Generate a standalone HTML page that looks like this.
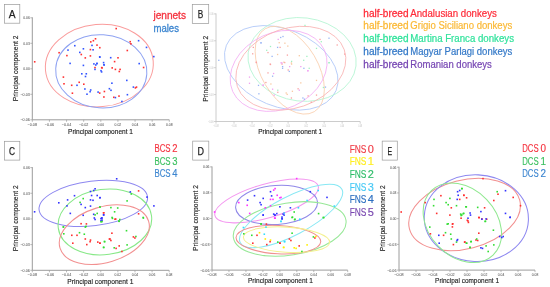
<!DOCTYPE html>
<html><head><meta charset="utf-8"><style>
html,body{margin:0;padding:0;background:#fff;width:550px;height:287px;overflow:hidden}
svg{display:block;will-change:transform}
text{font-family:"Liberation Sans", sans-serif}
</style></head><body>
<svg width="550" height="287" viewBox="0 0 550 287">
<rect width="550" height="287" fill="#fff"/>
<path d="M32.3 17.3V119.8H169.3" fill="none" stroke="#9c9c9c" stroke-width="1"/>
<path d="M30.30 17.80H32.3" stroke="#9c9c9c" stroke-width="0.7"/>
<text x="29.80" y="19.25" text-anchor="end" font-size="4" fill="#3a3a3a" textLength="6.60" lengthAdjust="spacingAndGlyphs">0.06</text>
<path d="M30.30 43.30H32.3" stroke="#9c9c9c" stroke-width="0.7"/>
<text x="29.80" y="44.75" text-anchor="end" font-size="4" fill="#3a3a3a" textLength="6.60" lengthAdjust="spacingAndGlyphs">0.03</text>
<path d="M30.30 68.80H32.3" stroke="#9c9c9c" stroke-width="0.7"/>
<text x="29.80" y="70.25" text-anchor="end" font-size="4" fill="#3a3a3a" textLength="6.60" lengthAdjust="spacingAndGlyphs">0.00</text>
<path d="M30.30 94.30H32.3" stroke="#9c9c9c" stroke-width="0.7"/>
<text x="29.80" y="95.75" text-anchor="end" font-size="4" fill="#3a3a3a" textLength="9.37" lengthAdjust="spacingAndGlyphs">−0.03</text>
<path d="M30.30 119.80H32.3" stroke="#9c9c9c" stroke-width="0.7"/>
<text x="29.80" y="121.25" text-anchor="end" font-size="4" fill="#3a3a3a" textLength="9.37" lengthAdjust="spacingAndGlyphs">−0.06</text>
<path d="M32.30 119.8V121.8" stroke="#9c9c9c" stroke-width="0.7"/>
<text x="32.30" y="125.70" text-anchor="middle" font-size="4" fill="#3a3a3a" textLength="9.37" lengthAdjust="spacingAndGlyphs">−0.08</text>
<path d="M49.42 119.8V121.8" stroke="#9c9c9c" stroke-width="0.7"/>
<text x="49.42" y="125.70" text-anchor="middle" font-size="4" fill="#3a3a3a" textLength="9.37" lengthAdjust="spacingAndGlyphs">−0.06</text>
<path d="M66.55 119.8V121.8" stroke="#9c9c9c" stroke-width="0.7"/>
<text x="66.55" y="125.70" text-anchor="middle" font-size="4" fill="#3a3a3a" textLength="9.37" lengthAdjust="spacingAndGlyphs">−0.04</text>
<path d="M83.67 119.8V121.8" stroke="#9c9c9c" stroke-width="0.7"/>
<text x="83.67" y="125.70" text-anchor="middle" font-size="4" fill="#3a3a3a" textLength="9.37" lengthAdjust="spacingAndGlyphs">−0.02</text>
<path d="M100.80 119.8V121.8" stroke="#9c9c9c" stroke-width="0.7"/>
<text x="100.80" y="125.70" text-anchor="middle" font-size="4" fill="#3a3a3a" textLength="6.60" lengthAdjust="spacingAndGlyphs">0.00</text>
<path d="M117.92 119.8V121.8" stroke="#9c9c9c" stroke-width="0.7"/>
<text x="117.92" y="125.70" text-anchor="middle" font-size="4" fill="#3a3a3a" textLength="6.60" lengthAdjust="spacingAndGlyphs">0.02</text>
<path d="M135.05 119.8V121.8" stroke="#9c9c9c" stroke-width="0.7"/>
<text x="135.05" y="125.70" text-anchor="middle" font-size="4" fill="#3a3a3a" textLength="6.60" lengthAdjust="spacingAndGlyphs">0.04</text>
<path d="M152.18 119.8V121.8" stroke="#9c9c9c" stroke-width="0.7"/>
<text x="152.18" y="125.70" text-anchor="middle" font-size="4" fill="#3a3a3a" textLength="6.60" lengthAdjust="spacingAndGlyphs">0.06</text>
<path d="M169.30 119.8V121.8" stroke="#9c9c9c" stroke-width="0.7"/>
<text x="169.30" y="125.70" text-anchor="middle" font-size="4" fill="#3a3a3a" textLength="6.60" lengthAdjust="spacingAndGlyphs">0.08</text>
<text x="68" y="133.80" font-size="7.9" fill="#222" stroke="#222" stroke-width="0.14" textLength="65.00" lengthAdjust="spacingAndGlyphs">Principal component 1</text>
<text transform="translate(18.20 101.30) rotate(-90)" x="0" y="0" font-size="7.9" fill="#222" stroke="#222" stroke-width="0.14" textLength="65.80" lengthAdjust="spacingAndGlyphs">Principal component 2</text>
<rect x="4.4" y="4.4" width="15.4" height="18.8" fill="#fff" stroke="#9a9a9a" stroke-width="0.7"/>
<text x="8.70" y="17.70" font-size="10.8" fill="#222" stroke="#222" stroke-width="0.25" textLength="6.8" lengthAdjust="spacingAndGlyphs">A</text>
<ellipse cx="99.33" cy="65.57" rx="54.06" ry="41.19" transform="rotate(-5.00 99.33 65.57)" fill="none" stroke="#fa9c9c" stroke-width="1.0"/>
<ellipse cx="101.27" cy="71.30" rx="45.63" ry="36.59" transform="rotate(3.50 101.27 71.30)" fill="none" stroke="#8ea2f2" stroke-width="1.0"/>
<rect x="33.90" y="61.00" width="1.6" height="1.6" fill="#ff3030"/>
<rect x="115.40" y="27.80" width="1.6" height="1.6" fill="#ff3030"/>
<rect x="58.30" y="51.90" width="1.6" height="1.6" fill="#ff3030"/>
<rect x="66.10" y="54.80" width="1.6" height="1.6" fill="#ff3030"/>
<rect x="90.00" y="41.10" width="1.6" height="1.6" fill="#ff3030"/>
<rect x="92.60" y="39.90" width="1.6" height="1.6" fill="#ff3030"/>
<rect x="94.70" y="38.00" width="1.6" height="1.6" fill="#ff3030"/>
<rect x="96.20" y="44.30" width="1.6" height="1.6" fill="#ff3030"/>
<rect x="99.00" y="46.90" width="1.6" height="1.6" fill="#ff3030"/>
<rect x="89.60" y="48.80" width="1.6" height="1.6" fill="#ff3030"/>
<rect x="80.50" y="53.70" width="1.6" height="1.6" fill="#ff3030"/>
<rect x="84.50" y="57.10" width="1.6" height="1.6" fill="#ff3030"/>
<rect x="89.60" y="55.10" width="1.6" height="1.6" fill="#ff3030"/>
<rect x="94.20" y="66.80" width="1.6" height="1.6" fill="#ff3030"/>
<rect x="100.90" y="66.80" width="1.6" height="1.6" fill="#ff3030"/>
<rect x="129.40" y="40.90" width="1.6" height="1.6" fill="#ff3030"/>
<rect x="130.10" y="43.00" width="1.6" height="1.6" fill="#ff3030"/>
<rect x="126.50" y="49.70" width="1.6" height="1.6" fill="#ff3030"/>
<rect x="117.20" y="57.00" width="1.6" height="1.6" fill="#ff3030"/>
<rect x="113.80" y="60.80" width="1.6" height="1.6" fill="#ff3030"/>
<rect x="101.30" y="67.10" width="1.6" height="1.6" fill="#ff3030"/>
<rect x="111.40" y="67.10" width="1.6" height="1.6" fill="#ff3030"/>
<rect x="114.60" y="68.60" width="1.6" height="1.6" fill="#ff3030"/>
<rect x="119.30" y="68.60" width="1.6" height="1.6" fill="#ff3030"/>
<rect x="118.50" y="70.70" width="1.6" height="1.6" fill="#ff3030"/>
<rect x="142.80" y="66.70" width="1.6" height="1.6" fill="#ff3030"/>
<rect x="134.60" y="87.10" width="1.6" height="1.6" fill="#ff3030"/>
<rect x="135.70" y="86.30" width="1.6" height="1.6" fill="#ff3030"/>
<rect x="98.90" y="92.30" width="1.6" height="1.6" fill="#ff3030"/>
<rect x="103.60" y="90.70" width="1.6" height="1.6" fill="#ff3030"/>
<rect x="103.10" y="96.20" width="1.6" height="1.6" fill="#ff3030"/>
<rect x="113.00" y="96.50" width="1.6" height="1.6" fill="#ff3030"/>
<rect x="118.20" y="95.30" width="1.6" height="1.6" fill="#ff3030"/>
<rect x="62.60" y="76.30" width="1.6" height="1.6" fill="#ff3030"/>
<rect x="63.20" y="83.00" width="1.6" height="1.6" fill="#ff3030"/>
<rect x="70.90" y="84.50" width="1.6" height="1.6" fill="#ff3030"/>
<rect x="78.40" y="81.50" width="1.6" height="1.6" fill="#ff3030"/>
<rect x="83.00" y="83.40" width="1.6" height="1.6" fill="#ff3030"/>
<rect x="71.60" y="92.40" width="1.6" height="1.6" fill="#ff3030"/>
<rect x="74.00" y="44.90" width="1.6" height="1.6" fill="#3355ff"/>
<rect x="67.20" y="49.30" width="1.6" height="1.6" fill="#3355ff"/>
<rect x="82.60" y="48.00" width="1.6" height="1.6" fill="#3355ff"/>
<rect x="91.20" y="44.60" width="1.6" height="1.6" fill="#3355ff"/>
<rect x="92.30" y="49.00" width="1.6" height="1.6" fill="#3355ff"/>
<rect x="79.00" y="51.60" width="1.6" height="1.6" fill="#3355ff"/>
<rect x="69.30" y="62.60" width="1.6" height="1.6" fill="#3355ff"/>
<rect x="82.60" y="64.60" width="1.6" height="1.6" fill="#3355ff"/>
<rect x="93.10" y="63.10" width="1.6" height="1.6" fill="#3355ff"/>
<rect x="95.00" y="64.20" width="1.6" height="1.6" fill="#3355ff"/>
<rect x="96.20" y="62.60" width="1.6" height="1.6" fill="#3355ff"/>
<rect x="99.00" y="56.30" width="1.6" height="1.6" fill="#3355ff"/>
<rect x="102.80" y="61.80" width="1.6" height="1.6" fill="#3355ff"/>
<rect x="103.30" y="64.20" width="1.6" height="1.6" fill="#3355ff"/>
<rect x="98.90" y="56.10" width="1.6" height="1.6" fill="#3355ff"/>
<rect x="109.90" y="56.90" width="1.6" height="1.6" fill="#3355ff"/>
<rect x="96.10" y="62.80" width="1.6" height="1.6" fill="#3355ff"/>
<rect x="103.10" y="63.90" width="1.6" height="1.6" fill="#3355ff"/>
<rect x="94.20" y="68.60" width="1.6" height="1.6" fill="#3355ff"/>
<rect x="100.20" y="69.90" width="1.6" height="1.6" fill="#3355ff"/>
<rect x="100.80" y="71.10" width="1.6" height="1.6" fill="#3355ff"/>
<rect x="138.40" y="62.80" width="1.6" height="1.6" fill="#3355ff"/>
<rect x="126.00" y="79.60" width="1.6" height="1.6" fill="#3355ff"/>
<rect x="111.10" y="82.40" width="1.6" height="1.6" fill="#3355ff"/>
<rect x="108.60" y="87.90" width="1.6" height="1.6" fill="#3355ff"/>
<rect x="110.20" y="89.50" width="1.6" height="1.6" fill="#3355ff"/>
<rect x="97.30" y="91.30" width="1.6" height="1.6" fill="#3355ff"/>
<rect x="132.60" y="86.30" width="1.6" height="1.6" fill="#3355ff"/>
<rect x="126.60" y="93.90" width="1.6" height="1.6" fill="#3355ff"/>
<rect x="114.60" y="96.80" width="1.6" height="1.6" fill="#3355ff"/>
<rect x="153.00" y="55.80" width="1.6" height="1.6" fill="#3355ff"/>
<rect x="137.80" y="39.90" width="1.6" height="1.6" fill="#3355ff"/>
<rect x="145.70" y="46.60" width="1.6" height="1.6" fill="#3355ff"/>
<rect x="76.20" y="84.50" width="1.6" height="1.6" fill="#3355ff"/>
<rect x="81.00" y="73.00" width="1.6" height="1.6" fill="#3355ff"/>
<rect x="85.50" y="73.00" width="1.6" height="1.6" fill="#3355ff"/>
<rect x="84.70" y="75.70" width="1.6" height="1.6" fill="#3355ff"/>
<rect x="84.10" y="88.20" width="1.6" height="1.6" fill="#3355ff"/>
<rect x="86.20" y="93.40" width="1.6" height="1.6" fill="#3355ff"/>
<rect x="89.30" y="90.90" width="1.6" height="1.6" fill="#3355ff"/>
<rect x="89.90" y="89.20" width="1.6" height="1.6" fill="#3355ff"/>
<rect x="121.10" y="100.70" width="1.6" height="1.6" fill="#3355ff"/>
<text x="153.4" y="18.70" font-size="10.2" fill="#f5333f" stroke="#f5333f" stroke-width="0.3" textLength="32.6" lengthAdjust="spacingAndGlyphs">jennets</text>
<text x="153.4" y="31.60" font-size="10.2" fill="#3d86d0" stroke="#3d86d0" stroke-width="0.3" textLength="25.6" lengthAdjust="spacingAndGlyphs">males</text>
<rect x="192.3" y="4.6" width="16.4" height="18.8" fill="#fff" stroke="#9a9a9a" stroke-width="0.7"/>
<text x="197.75" y="17.90" font-size="10.8" fill="#222" stroke="#222" stroke-width="0.25" textLength="5.5" lengthAdjust="spacingAndGlyphs">B</text>
<path d="M216 13.4V121.5H360.2" fill="none" stroke="#cccccc" stroke-width="1"/>
<path d="M213.80 13.90H216" stroke="#c0c0c0" stroke-width="0.7"/>
<text x="213.50" y="15.35" text-anchor="end" font-size="3.2" fill="#c4c4c4" textLength="3.90" lengthAdjust="spacingAndGlyphs">0.06</text>
<path d="M213.80 40.80H216" stroke="#c0c0c0" stroke-width="0.7"/>
<text x="213.50" y="42.25" text-anchor="end" font-size="3.2" fill="#c4c4c4" textLength="3.90" lengthAdjust="spacingAndGlyphs">0.03</text>
<path d="M213.80 67.70H216" stroke="#c0c0c0" stroke-width="0.7"/>
<text x="213.50" y="69.15" text-anchor="end" font-size="3.2" fill="#c4c4c4" textLength="3.90" lengthAdjust="spacingAndGlyphs">0.00</text>
<path d="M213.80 94.60H216" stroke="#c0c0c0" stroke-width="0.7"/>
<text x="213.50" y="96.05" text-anchor="end" font-size="3.2" fill="#c4c4c4" textLength="5.54" lengthAdjust="spacingAndGlyphs">−0.03</text>
<path d="M213.80 121.50H216" stroke="#c0c0c0" stroke-width="0.7"/>
<text x="213.50" y="122.95" text-anchor="end" font-size="3.2" fill="#c4c4c4" textLength="5.54" lengthAdjust="spacingAndGlyphs">−0.06</text>
<path d="M216.00 121.5V123.7" stroke="#c0c0c0" stroke-width="0.7"/>
<text x="216.00" y="127.40" text-anchor="middle" font-size="3.2" fill="#c4c4c4" textLength="5.54" lengthAdjust="spacingAndGlyphs">−0.08</text>
<path d="M234.03 121.5V123.7" stroke="#c0c0c0" stroke-width="0.7"/>
<text x="234.03" y="127.40" text-anchor="middle" font-size="3.2" fill="#c4c4c4" textLength="5.54" lengthAdjust="spacingAndGlyphs">−0.06</text>
<path d="M252.05 121.5V123.7" stroke="#c0c0c0" stroke-width="0.7"/>
<text x="252.05" y="127.40" text-anchor="middle" font-size="3.2" fill="#c4c4c4" textLength="5.54" lengthAdjust="spacingAndGlyphs">−0.04</text>
<path d="M270.07 121.5V123.7" stroke="#c0c0c0" stroke-width="0.7"/>
<text x="270.07" y="127.40" text-anchor="middle" font-size="3.2" fill="#c4c4c4" textLength="5.54" lengthAdjust="spacingAndGlyphs">−0.02</text>
<path d="M288.10 121.5V123.7" stroke="#c0c0c0" stroke-width="0.7"/>
<text x="288.10" y="127.40" text-anchor="middle" font-size="3.2" fill="#c4c4c4" textLength="3.90" lengthAdjust="spacingAndGlyphs">0.00</text>
<path d="M306.12 121.5V123.7" stroke="#c0c0c0" stroke-width="0.7"/>
<text x="306.12" y="127.40" text-anchor="middle" font-size="3.2" fill="#c4c4c4" textLength="3.90" lengthAdjust="spacingAndGlyphs">0.02</text>
<path d="M324.15 121.5V123.7" stroke="#c0c0c0" stroke-width="0.7"/>
<text x="324.15" y="127.40" text-anchor="middle" font-size="3.2" fill="#c4c4c4" textLength="3.90" lengthAdjust="spacingAndGlyphs">0.04</text>
<path d="M342.17 121.5V123.7" stroke="#c0c0c0" stroke-width="0.7"/>
<text x="342.17" y="127.40" text-anchor="middle" font-size="3.2" fill="#c4c4c4" textLength="3.90" lengthAdjust="spacingAndGlyphs">0.06</text>
<path d="M360.20 121.5V123.7" stroke="#c0c0c0" stroke-width="0.7"/>
<text x="360.20" y="127.40" text-anchor="middle" font-size="3.2" fill="#c4c4c4" textLength="3.90" lengthAdjust="spacingAndGlyphs">0.08</text>
<text x="258.2" y="133.50" font-size="7.9" fill="#222" stroke="#222" stroke-width="0.14" textLength="64.00" lengthAdjust="spacingAndGlyphs">Principal component 1</text>
<text transform="translate(208.30 101.70) rotate(-90)" x="0" y="0" font-size="7.9" fill="#222" stroke="#222" stroke-width="0.14" textLength="65.90" lengthAdjust="spacingAndGlyphs">Principal component 2</text>
<ellipse cx="281.26" cy="67.87" rx="59.34" ry="38.63" transform="rotate(22.42 281.26 67.87)" fill="none" stroke="#b0c8f8" stroke-width="0.8"/>
<ellipse cx="302.07" cy="59.44" rx="54.32" ry="41.71" transform="rotate(6.96 302.07 59.44)" fill="none" stroke="#b0f4d0" stroke-width="0.8"/>
<ellipse cx="289.74" cy="70.20" rx="48.20" ry="28.40" transform="rotate(59.38 289.74 70.20)" fill="none" stroke="#f9d0b0" stroke-width="0.8"/>
<ellipse cx="278.60" cy="70.87" rx="50.31" ry="38.27" transform="rotate(-24.34 278.60 70.87)" fill="none" stroke="#f4b0f4" stroke-width="0.8"/>
<ellipse cx="290.84" cy="68.20" rx="56.54" ry="39.87" transform="rotate(-18.96 290.84 68.20)" fill="none" stroke="#f9b4b4" stroke-width="0.8"/>
<rect x="218.15" y="59.65" width="1.3" height="1.3" fill="#98b4f4"/>
<rect x="260.35" y="42.05" width="1.3" height="1.3" fill="#98b4f4"/>
<rect x="282.35" y="35.85" width="1.3" height="1.3" fill="#98b4f4"/>
<rect x="280.05" y="36.85" width="1.3" height="1.3" fill="#98b4f4"/>
<rect x="276.95" y="46.75" width="1.3" height="1.3" fill="#98b4f4"/>
<rect x="260.35" y="42.35" width="1.3" height="1.3" fill="#98b4f4"/>
<rect x="271.45" y="55.75" width="1.3" height="1.3" fill="#98b4f4"/>
<rect x="328.35" y="37.55" width="1.3" height="1.3" fill="#98b4f4"/>
<rect x="257.85" y="84.75" width="1.3" height="1.3" fill="#98b4f4"/>
<rect x="258.25" y="93.15" width="1.3" height="1.3" fill="#98b4f4"/>
<rect x="281.95" y="65.95" width="1.3" height="1.3" fill="#98b4f4"/>
<rect x="281.95" y="67.65" width="1.3" height="1.3" fill="#98b4f4"/>
<rect x="288.65" y="70.75" width="1.3" height="1.3" fill="#98b4f4"/>
<rect x="303.25" y="67.65" width="1.3" height="1.3" fill="#98b4f4"/>
<rect x="271.95" y="75.55" width="1.3" height="1.3" fill="#98b4f4"/>
<rect x="302.25" y="97.35" width="1.3" height="1.3" fill="#98b4f4"/>
<rect x="303.75" y="98.55" width="1.3" height="1.3" fill="#98b4f4"/>
<rect x="324.85" y="86.45" width="1.3" height="1.3" fill="#98b4f4"/>
<rect x="252.65" y="46.75" width="1.3" height="1.3" fill="#f9a0a0"/>
<rect x="252.05" y="53.15" width="1.3" height="1.3" fill="#f9a0a0"/>
<rect x="255.55" y="61.55" width="1.3" height="1.3" fill="#f9a0a0"/>
<rect x="279.45" y="46.75" width="1.3" height="1.3" fill="#f9a0a0"/>
<rect x="267.35" y="51.95" width="1.3" height="1.3" fill="#f9a0a0"/>
<rect x="286.75" y="54.45" width="1.3" height="1.3" fill="#f9a0a0"/>
<rect x="281.35" y="63.45" width="1.3" height="1.3" fill="#f9a0a0"/>
<rect x="269.55" y="63.45" width="1.3" height="1.3" fill="#f9a0a0"/>
<rect x="319.35" y="38.75" width="1.3" height="1.3" fill="#f9a0a0"/>
<rect x="336.55" y="44.35" width="1.3" height="1.3" fill="#f9a0a0"/>
<rect x="344.05" y="53.45" width="1.3" height="1.3" fill="#f9a0a0"/>
<rect x="255.75" y="61.95" width="1.3" height="1.3" fill="#f9a0a0"/>
<rect x="269.85" y="63.85" width="1.3" height="1.3" fill="#f9a0a0"/>
<rect x="284.05" y="61.95" width="1.3" height="1.3" fill="#f9a0a0"/>
<rect x="287.55" y="69.35" width="1.3" height="1.3" fill="#f9a0a0"/>
<rect x="267.35" y="72.25" width="1.3" height="1.3" fill="#f9a0a0"/>
<rect x="265.25" y="81.85" width="1.3" height="1.3" fill="#f9a0a0"/>
<rect x="277.15" y="91.65" width="1.3" height="1.3" fill="#f9a0a0"/>
<rect x="290.75" y="97.35" width="1.3" height="1.3" fill="#f9a0a0"/>
<rect x="297.45" y="88.15" width="1.3" height="1.3" fill="#f9a0a0"/>
<rect x="315.85" y="94.45" width="1.3" height="1.3" fill="#f9a0a0"/>
<rect x="307.45" y="95.25" width="1.3" height="1.3" fill="#f9a0a0"/>
<rect x="310.65" y="101.55" width="1.3" height="1.3" fill="#f9a0a0"/>
<rect x="304.35" y="24.75" width="1.3" height="1.3" fill="#a0f0c0"/>
<rect x="269.85" y="45.85" width="1.3" height="1.3" fill="#a0f0c0"/>
<rect x="266.05" y="49.65" width="1.3" height="1.3" fill="#a0f0c0"/>
<rect x="306.25" y="55.75" width="1.3" height="1.3" fill="#a0f0c0"/>
<rect x="290.95" y="60.75" width="1.3" height="1.3" fill="#a0f0c0"/>
<rect x="303.05" y="59.65" width="1.3" height="1.3" fill="#a0f0c0"/>
<rect x="320.65" y="41.05" width="1.3" height="1.3" fill="#a0f0c0"/>
<rect x="315.85" y="47.75" width="1.3" height="1.3" fill="#a0f0c0"/>
<rect x="328.35" y="62.15" width="1.3" height="1.3" fill="#a0f0c0"/>
<rect x="277.15" y="89.55" width="1.3" height="1.3" fill="#a0f0c0"/>
<rect x="308.55" y="67.65" width="1.3" height="1.3" fill="#a0f0c0"/>
<rect x="322.75" y="86.85" width="1.3" height="1.3" fill="#a0f0c0"/>
<rect x="328.45" y="61.95" width="1.3" height="1.3" fill="#a0f0c0"/>
<rect x="278.55" y="42.05" width="1.3" height="1.3" fill="#f8c8a0"/>
<rect x="284.25" y="42.55" width="1.3" height="1.3" fill="#f8c8a0"/>
<rect x="287.15" y="45.45" width="1.3" height="1.3" fill="#f8c8a0"/>
<rect x="276.95" y="53.85" width="1.3" height="1.3" fill="#f8c8a0"/>
<rect x="298.65" y="55.05" width="1.3" height="1.3" fill="#f8c8a0"/>
<rect x="283.25" y="61.55" width="1.3" height="1.3" fill="#f8c8a0"/>
<rect x="290.95" y="63.45" width="1.3" height="1.3" fill="#f8c8a0"/>
<rect x="290.75" y="62.35" width="1.3" height="1.3" fill="#f8c8a0"/>
<rect x="270.25" y="83.35" width="1.3" height="1.3" fill="#f8c8a0"/>
<rect x="285.55" y="92.35" width="1.3" height="1.3" fill="#f8c8a0"/>
<rect x="286.55" y="93.75" width="1.3" height="1.3" fill="#f8c8a0"/>
<rect x="291.75" y="90.65" width="1.3" height="1.3" fill="#f8c8a0"/>
<rect x="300.15" y="82.25" width="1.3" height="1.3" fill="#f8c8a0"/>
<rect x="315.85" y="79.75" width="1.3" height="1.3" fill="#f8c8a0"/>
<rect x="277.55" y="38.75" width="1.3" height="1.3" fill="#f0a0f0"/>
<rect x="280.45" y="62.15" width="1.3" height="1.3" fill="#f0a0f0"/>
<rect x="289.05" y="65.95" width="1.3" height="1.3" fill="#f0a0f0"/>
<rect x="248.85" y="76.45" width="1.3" height="1.3" fill="#f0a0f0"/>
<rect x="248.85" y="82.65" width="1.3" height="1.3" fill="#f0a0f0"/>
<rect x="262.45" y="84.75" width="1.3" height="1.3" fill="#f0a0f0"/>
<rect x="281.35" y="62.35" width="1.3" height="1.3" fill="#f0a0f0"/>
<rect x="300.15" y="65.95" width="1.3" height="1.3" fill="#f0a0f0"/>
<rect x="307.05" y="70.15" width="1.3" height="1.3" fill="#f0a0f0"/>
<rect x="272.95" y="72.85" width="1.3" height="1.3" fill="#f0a0f0"/>
<rect x="262.45" y="84.35" width="1.3" height="1.3" fill="#f0a0f0"/>
<rect x="271.95" y="88.55" width="1.3" height="1.3" fill="#f0a0f0"/>
<rect x="273.55" y="94.45" width="1.3" height="1.3" fill="#f0a0f0"/>
<rect x="298.65" y="89.55" width="1.3" height="1.3" fill="#f0a0f0"/>
<rect x="307.45" y="70.15" width="1.3" height="1.3" fill="#f0a0f0"/>
<text x="363.3" y="16.70" font-size="10" fill="#ff2b38" stroke="#ff2b38" stroke-width="0.26" textLength="45.2" lengthAdjust="spacingAndGlyphs">half-breed</text>
<text x="410.3" y="16.70" font-size="10" fill="#ff2b38" stroke="#ff2b38" stroke-width="0.2" textLength="86.50" lengthAdjust="spacingAndGlyphs">Andalusian donkeys</text>
<text x="363.3" y="29.40" font-size="10" fill="#fbb936" stroke="#fbb936" stroke-width="0.26" textLength="45.2" lengthAdjust="spacingAndGlyphs">half-breed</text>
<text x="410.3" y="29.40" font-size="10" fill="#fbb936" stroke="#fbb936" stroke-width="0.2" textLength="101.90" lengthAdjust="spacingAndGlyphs">Grigio Siciliano donkeys</text>
<text x="363.3" y="42.10" font-size="10" fill="#30e39c" stroke="#30e39c" stroke-width="0.26" textLength="45.2" lengthAdjust="spacingAndGlyphs">half-breed</text>
<text x="410.3" y="42.10" font-size="10" fill="#30e39c" stroke="#30e39c" stroke-width="0.2" textLength="103.70" lengthAdjust="spacingAndGlyphs">Martina Franca donkeys</text>
<text x="363.3" y="54.80" font-size="10" fill="#3479c8" stroke="#3479c8" stroke-width="0.26" textLength="45.2" lengthAdjust="spacingAndGlyphs">half-breed</text>
<text x="410.3" y="54.80" font-size="10" fill="#3479c8" stroke="#3479c8" stroke-width="0.2" textLength="101.90" lengthAdjust="spacingAndGlyphs">Magyar Parlagi donkeys</text>
<text x="363.3" y="67.50" font-size="10" fill="#7646b3" stroke="#7646b3" stroke-width="0.26" textLength="45.2" lengthAdjust="spacingAndGlyphs">half-breed</text>
<text x="410.3" y="67.50" font-size="10" fill="#7646b3" stroke="#7646b3" stroke-width="0.2" textLength="81.50" lengthAdjust="spacingAndGlyphs">Romanian donkeys</text>
<rect x="4.4" y="141.3" width="15.4" height="18.8" fill="#fff" stroke="#9a9a9a" stroke-width="0.7"/>
<text x="9.10" y="154.60" font-size="10.8" fill="#222" stroke="#222" stroke-width="0.25" textLength="6.0" lengthAdjust="spacingAndGlyphs">C</text>
<path d="M32.3 167.1V270.3H169.2" fill="none" stroke="#9c9c9c" stroke-width="1"/>
<path d="M30.30 167.60H32.3" stroke="#9c9c9c" stroke-width="0.7"/>
<text x="29.80" y="169.05" text-anchor="end" font-size="4" fill="#3a3a3a" textLength="6.60" lengthAdjust="spacingAndGlyphs">0.06</text>
<path d="M30.30 193.28H32.3" stroke="#9c9c9c" stroke-width="0.7"/>
<text x="29.80" y="194.72" text-anchor="end" font-size="4" fill="#3a3a3a" textLength="6.60" lengthAdjust="spacingAndGlyphs">0.03</text>
<path d="M30.30 218.95H32.3" stroke="#9c9c9c" stroke-width="0.7"/>
<text x="29.80" y="220.40" text-anchor="end" font-size="4" fill="#3a3a3a" textLength="6.60" lengthAdjust="spacingAndGlyphs">0.00</text>
<path d="M30.30 244.62H32.3" stroke="#9c9c9c" stroke-width="0.7"/>
<text x="29.80" y="246.07" text-anchor="end" font-size="4" fill="#3a3a3a" textLength="9.37" lengthAdjust="spacingAndGlyphs">−0.03</text>
<path d="M30.30 270.30H32.3" stroke="#9c9c9c" stroke-width="0.7"/>
<text x="29.80" y="271.75" text-anchor="end" font-size="4" fill="#3a3a3a" textLength="9.37" lengthAdjust="spacingAndGlyphs">−0.06</text>
<path d="M32.30 270.3V272.3" stroke="#9c9c9c" stroke-width="0.7"/>
<text x="32.30" y="276.20" text-anchor="middle" font-size="4" fill="#3a3a3a" textLength="9.37" lengthAdjust="spacingAndGlyphs">−0.08</text>
<path d="M49.41 270.3V272.3" stroke="#9c9c9c" stroke-width="0.7"/>
<text x="49.41" y="276.20" text-anchor="middle" font-size="4" fill="#3a3a3a" textLength="9.37" lengthAdjust="spacingAndGlyphs">−0.06</text>
<path d="M66.52 270.3V272.3" stroke="#9c9c9c" stroke-width="0.7"/>
<text x="66.52" y="276.20" text-anchor="middle" font-size="4" fill="#3a3a3a" textLength="9.37" lengthAdjust="spacingAndGlyphs">−0.04</text>
<path d="M83.64 270.3V272.3" stroke="#9c9c9c" stroke-width="0.7"/>
<text x="83.64" y="276.20" text-anchor="middle" font-size="4" fill="#3a3a3a" textLength="9.37" lengthAdjust="spacingAndGlyphs">−0.02</text>
<path d="M100.75 270.3V272.3" stroke="#9c9c9c" stroke-width="0.7"/>
<text x="100.75" y="276.20" text-anchor="middle" font-size="4" fill="#3a3a3a" textLength="6.60" lengthAdjust="spacingAndGlyphs">0.00</text>
<path d="M117.86 270.3V272.3" stroke="#9c9c9c" stroke-width="0.7"/>
<text x="117.86" y="276.20" text-anchor="middle" font-size="4" fill="#3a3a3a" textLength="6.60" lengthAdjust="spacingAndGlyphs">0.02</text>
<path d="M134.97 270.3V272.3" stroke="#9c9c9c" stroke-width="0.7"/>
<text x="134.97" y="276.20" text-anchor="middle" font-size="4" fill="#3a3a3a" textLength="6.60" lengthAdjust="spacingAndGlyphs">0.04</text>
<path d="M152.09 270.3V272.3" stroke="#9c9c9c" stroke-width="0.7"/>
<text x="152.09" y="276.20" text-anchor="middle" font-size="4" fill="#3a3a3a" textLength="6.60" lengthAdjust="spacingAndGlyphs">0.06</text>
<path d="M169.20 270.3V272.3" stroke="#9c9c9c" stroke-width="0.7"/>
<text x="169.20" y="276.20" text-anchor="middle" font-size="4" fill="#3a3a3a" textLength="6.60" lengthAdjust="spacingAndGlyphs">0.08</text>
<text x="67.3" y="283.60" font-size="7.9" fill="#222" stroke="#222" stroke-width="0.14" textLength="66.20" lengthAdjust="spacingAndGlyphs">Principal component 1</text>
<text transform="translate(18.20 251.30) rotate(-90)" x="0" y="0" font-size="7.9" fill="#222" stroke="#222" stroke-width="0.14" textLength="66.00" lengthAdjust="spacingAndGlyphs">Principal component 2</text>
<ellipse cx="93.30" cy="203.40" rx="54.60" ry="22.30" transform="rotate(-6.90 93.30 203.40)" fill="none" stroke="#8e88f0" stroke-width="1.05"/>
<ellipse cx="104.90" cy="221.96" rx="47.01" ry="32.67" transform="rotate(-7.53 104.90 221.96)" fill="none" stroke="#88e888" stroke-width="1.05"/>
<ellipse cx="104.31" cy="234.67" rx="46.30" ry="27.76" transform="rotate(-17.00 104.31 234.67)" fill="none" stroke="#f29090" stroke-width="1.05"/>
<rect x="33.80" y="211.00" width="1.6" height="1.6" fill="#3333ff"/>
<rect x="58.00" y="202.00" width="1.6" height="1.6" fill="#3333ff"/>
<rect x="66.80" y="199.10" width="1.6" height="1.6" fill="#3333ff"/>
<rect x="66.20" y="205.10" width="1.6" height="1.6" fill="#3333ff"/>
<rect x="73.70" y="194.90" width="1.6" height="1.6" fill="#3333ff"/>
<rect x="69.50" y="212.60" width="1.6" height="1.6" fill="#3333ff"/>
<rect x="80.30" y="203.60" width="1.6" height="1.6" fill="#3333ff"/>
<rect x="84.50" y="206.80" width="1.6" height="1.6" fill="#3333ff"/>
<rect x="82.40" y="214.50" width="1.6" height="1.6" fill="#3333ff"/>
<rect x="89.70" y="190.70" width="1.6" height="1.6" fill="#3333ff"/>
<rect x="92.90" y="189.70" width="1.6" height="1.6" fill="#3333ff"/>
<rect x="94.30" y="188.00" width="1.6" height="1.6" fill="#3333ff"/>
<rect x="90.80" y="194.70" width="1.6" height="1.6" fill="#3333ff"/>
<rect x="96.40" y="194.70" width="1.6" height="1.6" fill="#3333ff"/>
<rect x="99.10" y="197.00" width="1.6" height="1.6" fill="#3333ff"/>
<rect x="89.70" y="199.10" width="1.6" height="1.6" fill="#3333ff"/>
<rect x="92.20" y="199.50" width="1.6" height="1.6" fill="#3333ff"/>
<rect x="89.70" y="205.30" width="1.6" height="1.6" fill="#3333ff"/>
<rect x="92.90" y="213.50" width="1.6" height="1.6" fill="#3333ff"/>
<rect x="93.50" y="217.20" width="1.6" height="1.6" fill="#3333ff"/>
<rect x="94.30" y="218.70" width="1.6" height="1.6" fill="#3333ff"/>
<rect x="101.20" y="217.20" width="1.6" height="1.6" fill="#3333ff"/>
<rect x="100.20" y="219.90" width="1.6" height="1.6" fill="#3333ff"/>
<rect x="102.70" y="214.10" width="1.6" height="1.6" fill="#3333ff"/>
<rect x="115.90" y="178.00" width="1.6" height="1.6" fill="#3333ff"/>
<rect x="129.50" y="191.10" width="1.6" height="1.6" fill="#3333ff"/>
<rect x="146.20" y="196.30" width="1.6" height="1.6" fill="#3333ff"/>
<rect x="153.10" y="205.10" width="1.6" height="1.6" fill="#3333ff"/>
<rect x="99.20" y="196.80" width="1.6" height="1.6" fill="#3333ff"/>
<rect x="103.00" y="214.10" width="1.6" height="1.6" fill="#3333ff"/>
<rect x="100.20" y="217.80" width="1.6" height="1.6" fill="#3333ff"/>
<rect x="101.30" y="219.30" width="1.6" height="1.6" fill="#3333ff"/>
<rect x="100.90" y="217.30" width="1.6" height="1.6" fill="#3333ff"/>
<rect x="82.40" y="197.80" width="1.6" height="1.6" fill="#33dd33"/>
<rect x="79.30" y="201.60" width="1.6" height="1.6" fill="#33dd33"/>
<rect x="99.10" y="206.20" width="1.6" height="1.6" fill="#33dd33"/>
<rect x="94.30" y="214.10" width="1.6" height="1.6" fill="#33dd33"/>
<rect x="96.40" y="212.60" width="1.6" height="1.6" fill="#33dd33"/>
<rect x="62.60" y="226.00" width="1.6" height="1.6" fill="#33dd33"/>
<rect x="85.20" y="225.60" width="1.6" height="1.6" fill="#33dd33"/>
<rect x="101.20" y="220.80" width="1.6" height="1.6" fill="#33dd33"/>
<rect x="130.50" y="193.20" width="1.6" height="1.6" fill="#33dd33"/>
<rect x="126.30" y="200.10" width="1.6" height="1.6" fill="#33dd33"/>
<rect x="110.10" y="206.80" width="1.6" height="1.6" fill="#33dd33"/>
<rect x="116.90" y="207.20" width="1.6" height="1.6" fill="#33dd33"/>
<rect x="99.20" y="206.20" width="1.6" height="1.6" fill="#33dd33"/>
<rect x="113.80" y="211.00" width="1.6" height="1.6" fill="#33dd33"/>
<rect x="142.60" y="217.20" width="1.6" height="1.6" fill="#33dd33"/>
<rect x="111.70" y="217.60" width="1.6" height="1.6" fill="#33dd33"/>
<rect x="119.00" y="218.70" width="1.6" height="1.6" fill="#33dd33"/>
<rect x="118.00" y="220.30" width="1.6" height="1.6" fill="#33dd33"/>
<rect x="100.20" y="221.00" width="1.6" height="1.6" fill="#33dd33"/>
<rect x="62.60" y="226.30" width="1.6" height="1.6" fill="#33dd33"/>
<rect x="84.50" y="226.30" width="1.6" height="1.6" fill="#33dd33"/>
<rect x="63.00" y="233.00" width="1.6" height="1.6" fill="#33dd33"/>
<rect x="78.70" y="231.90" width="1.6" height="1.6" fill="#33dd33"/>
<rect x="83.50" y="233.40" width="1.6" height="1.6" fill="#33dd33"/>
<rect x="103.70" y="240.70" width="1.6" height="1.6" fill="#33dd33"/>
<rect x="102.70" y="246.60" width="1.6" height="1.6" fill="#33dd33"/>
<rect x="111.30" y="216.70" width="1.6" height="1.6" fill="#33dd33"/>
<rect x="118.40" y="220.50" width="1.6" height="1.6" fill="#33dd33"/>
<rect x="142.40" y="216.70" width="1.6" height="1.6" fill="#33dd33"/>
<rect x="125.70" y="229.90" width="1.6" height="1.6" fill="#33dd33"/>
<rect x="103.80" y="240.90" width="1.6" height="1.6" fill="#33dd33"/>
<rect x="135.10" y="235.70" width="1.6" height="1.6" fill="#33dd33"/>
<rect x="126.30" y="244.10" width="1.6" height="1.6" fill="#33dd33"/>
<rect x="113.40" y="247.00" width="1.6" height="1.6" fill="#33dd33"/>
<rect x="103.00" y="246.60" width="1.6" height="1.6" fill="#33dd33"/>
<rect x="102.70" y="212.00" width="1.6" height="1.6" fill="#ff3030"/>
<rect x="80.30" y="222.90" width="1.6" height="1.6" fill="#ff3030"/>
<rect x="85.60" y="223.10" width="1.6" height="1.6" fill="#ff3030"/>
<rect x="137.80" y="190.10" width="1.6" height="1.6" fill="#ff3030"/>
<rect x="103.00" y="212.00" width="1.6" height="1.6" fill="#ff3030"/>
<rect x="137.80" y="213.00" width="1.6" height="1.6" fill="#ff3030"/>
<rect x="114.90" y="218.30" width="1.6" height="1.6" fill="#ff3030"/>
<rect x="71.00" y="234.50" width="1.6" height="1.6" fill="#ff3030"/>
<rect x="76.20" y="234.50" width="1.6" height="1.6" fill="#ff3030"/>
<rect x="84.50" y="238.20" width="1.6" height="1.6" fill="#ff3030"/>
<rect x="89.70" y="239.30" width="1.6" height="1.6" fill="#ff3030"/>
<rect x="89.30" y="240.90" width="1.6" height="1.6" fill="#ff3030"/>
<rect x="72.00" y="242.40" width="1.6" height="1.6" fill="#ff3030"/>
<rect x="86.00" y="243.80" width="1.6" height="1.6" fill="#ff3030"/>
<rect x="97.00" y="241.30" width="1.6" height="1.6" fill="#ff3030"/>
<rect x="99.10" y="242.40" width="1.6" height="1.6" fill="#ff3030"/>
<rect x="109.20" y="238.20" width="1.6" height="1.6" fill="#ff3030"/>
<rect x="114.20" y="218.40" width="1.6" height="1.6" fill="#ff3030"/>
<rect x="111.10" y="232.40" width="1.6" height="1.6" fill="#ff3030"/>
<rect x="108.60" y="238.20" width="1.6" height="1.6" fill="#ff3030"/>
<rect x="110.10" y="239.70" width="1.6" height="1.6" fill="#ff3030"/>
<rect x="99.20" y="242.40" width="1.6" height="1.6" fill="#ff3030"/>
<rect x="132.60" y="236.10" width="1.6" height="1.6" fill="#ff3030"/>
<rect x="134.10" y="237.20" width="1.6" height="1.6" fill="#ff3030"/>
<rect x="118.40" y="245.10" width="1.6" height="1.6" fill="#ff3030"/>
<rect x="115.30" y="247.60" width="1.6" height="1.6" fill="#ff3030"/>
<rect x="121.10" y="250.70" width="1.6" height="1.6" fill="#ff3030"/>
<text x="154.40" y="151.90" font-size="10.0" fill="#f5333f" stroke="#f5333f" stroke-width="0.15" textLength="16.20" lengthAdjust="spacingAndGlyphs">BCS</text>
<text x="172.25" y="151.90" font-size="10.0" fill="#f5333f" stroke="#f5333f" stroke-width="0.15" textLength="5.25" lengthAdjust="spacingAndGlyphs">2</text>
<text x="154.40" y="164.60" font-size="10.0" fill="#3cc060" stroke="#3cc060" stroke-width="0.15" textLength="16.20" lengthAdjust="spacingAndGlyphs">BCS</text>
<text x="172.25" y="164.60" font-size="10.0" fill="#3cc060" stroke="#3cc060" stroke-width="0.15" textLength="5.25" lengthAdjust="spacingAndGlyphs">3</text>
<text x="154.40" y="177.30" font-size="10.0" fill="#3d86d0" stroke="#3d86d0" stroke-width="0.15" textLength="16.20" lengthAdjust="spacingAndGlyphs">BCS</text>
<text x="172.25" y="177.30" font-size="10.0" fill="#3d86d0" stroke="#3d86d0" stroke-width="0.15" textLength="5.25" lengthAdjust="spacingAndGlyphs">4</text>
<rect x="192.7" y="141.1" width="16.1" height="19" fill="#fff" stroke="#9a9a9a" stroke-width="0.7"/>
<text x="197.50" y="154.50" font-size="10.8" fill="#222" stroke="#222" stroke-width="0.25" textLength="6.5" lengthAdjust="spacingAndGlyphs">D</text>
<path d="M212 166.4V270.1H347.7" fill="none" stroke="#9c9c9c" stroke-width="1"/>
<path d="M210.00 166.90H212" stroke="#9c9c9c" stroke-width="0.7"/>
<text x="209.50" y="168.35" text-anchor="end" font-size="4" fill="#3a3a3a" textLength="6.60" lengthAdjust="spacingAndGlyphs">0.06</text>
<path d="M210.00 192.70H212" stroke="#9c9c9c" stroke-width="0.7"/>
<text x="209.50" y="194.15" text-anchor="end" font-size="4" fill="#3a3a3a" textLength="6.60" lengthAdjust="spacingAndGlyphs">0.03</text>
<path d="M210.00 218.50H212" stroke="#9c9c9c" stroke-width="0.7"/>
<text x="209.50" y="219.95" text-anchor="end" font-size="4" fill="#3a3a3a" textLength="6.60" lengthAdjust="spacingAndGlyphs">0.00</text>
<path d="M210.00 244.30H212" stroke="#9c9c9c" stroke-width="0.7"/>
<text x="209.50" y="245.75" text-anchor="end" font-size="4" fill="#3a3a3a" textLength="9.37" lengthAdjust="spacingAndGlyphs">−0.03</text>
<path d="M210.00 270.10H212" stroke="#9c9c9c" stroke-width="0.7"/>
<text x="209.50" y="271.55" text-anchor="end" font-size="4" fill="#3a3a3a" textLength="9.37" lengthAdjust="spacingAndGlyphs">−0.06</text>
<path d="M212.00 270.1V272.1" stroke="#9c9c9c" stroke-width="0.7"/>
<text x="212.00" y="276.00" text-anchor="middle" font-size="4" fill="#3a3a3a" textLength="9.37" lengthAdjust="spacingAndGlyphs">−0.08</text>
<path d="M228.96 270.1V272.1" stroke="#9c9c9c" stroke-width="0.7"/>
<text x="228.96" y="276.00" text-anchor="middle" font-size="4" fill="#3a3a3a" textLength="9.37" lengthAdjust="spacingAndGlyphs">−0.06</text>
<path d="M245.93 270.1V272.1" stroke="#9c9c9c" stroke-width="0.7"/>
<text x="245.93" y="276.00" text-anchor="middle" font-size="4" fill="#3a3a3a" textLength="9.37" lengthAdjust="spacingAndGlyphs">−0.04</text>
<path d="M262.89 270.1V272.1" stroke="#9c9c9c" stroke-width="0.7"/>
<text x="262.89" y="276.00" text-anchor="middle" font-size="4" fill="#3a3a3a" textLength="9.37" lengthAdjust="spacingAndGlyphs">−0.02</text>
<path d="M279.85 270.1V272.1" stroke="#9c9c9c" stroke-width="0.7"/>
<text x="279.85" y="276.00" text-anchor="middle" font-size="4" fill="#3a3a3a" textLength="6.60" lengthAdjust="spacingAndGlyphs">0.00</text>
<path d="M296.81 270.1V272.1" stroke="#9c9c9c" stroke-width="0.7"/>
<text x="296.81" y="276.00" text-anchor="middle" font-size="4" fill="#3a3a3a" textLength="6.60" lengthAdjust="spacingAndGlyphs">0.02</text>
<path d="M313.77 270.1V272.1" stroke="#9c9c9c" stroke-width="0.7"/>
<text x="313.77" y="276.00" text-anchor="middle" font-size="4" fill="#3a3a3a" textLength="6.60" lengthAdjust="spacingAndGlyphs">0.04</text>
<path d="M330.74 270.1V272.1" stroke="#9c9c9c" stroke-width="0.7"/>
<text x="330.74" y="276.00" text-anchor="middle" font-size="4" fill="#3a3a3a" textLength="6.60" lengthAdjust="spacingAndGlyphs">0.06</text>
<path d="M347.70 270.1V272.1" stroke="#9c9c9c" stroke-width="0.7"/>
<text x="347.70" y="276.00" text-anchor="middle" font-size="4" fill="#3a3a3a" textLength="6.60" lengthAdjust="spacingAndGlyphs">0.08</text>
<text x="248" y="283.40" font-size="7.9" fill="#222" stroke="#222" stroke-width="0.14" textLength="64.90" lengthAdjust="spacingAndGlyphs">Principal component 1</text>
<text transform="translate(197.80 251.00) rotate(-90)" x="0" y="0" font-size="7.9" fill="#222" stroke="#222" stroke-width="0.14" textLength="66.00" lengthAdjust="spacingAndGlyphs">Principal component 2</text>
<ellipse cx="266.59" cy="200.93" rx="53.70" ry="16.89" transform="rotate(-15.96 266.59 200.93)" fill="none" stroke="#f498f0" stroke-width="1.05"/>
<ellipse cx="276.58" cy="204.97" rx="41.04" ry="19.49" transform="rotate(-4.01 276.58 204.97)" fill="none" stroke="#9088e8" stroke-width="1.05"/>
<ellipse cx="291.10" cy="216.00" rx="57.44" ry="19.14" transform="rotate(-27.83 291.10 216.00)" fill="none" stroke="#88e8f4" stroke-width="1.05"/>
<ellipse cx="289.68" cy="228.94" rx="56.96" ry="26.09" transform="rotate(-8.84 289.68 228.94)" fill="none" stroke="#98e898" stroke-width="1.05"/>
<ellipse cx="278.40" cy="239.60" rx="42.40" ry="14.20" transform="rotate(3.00 278.40 239.60)" fill="none" stroke="#f09090" stroke-width="1.05"/>
<ellipse cx="286.50" cy="239.70" rx="43.20" ry="12.60" transform="rotate(3.70 286.50 239.70)" fill="none" stroke="#f4f090" stroke-width="1.05"/>
<rect x="213.80" y="211.20" width="1.6" height="1.6" fill="#ff33ff"/>
<rect x="238.00" y="201.80" width="1.6" height="1.6" fill="#ff33ff"/>
<rect x="246.40" y="204.50" width="1.6" height="1.6" fill="#ff33ff"/>
<rect x="264.50" y="207.00" width="1.6" height="1.6" fill="#ff33ff"/>
<rect x="248.90" y="212.60" width="1.6" height="1.6" fill="#ff33ff"/>
<rect x="269.70" y="204.90" width="1.6" height="1.6" fill="#ff33ff"/>
<rect x="269.70" y="198.60" width="1.6" height="1.6" fill="#ff33ff"/>
<rect x="272.20" y="198.60" width="1.6" height="1.6" fill="#ff33ff"/>
<rect x="272.90" y="189.30" width="1.6" height="1.6" fill="#ff33ff"/>
<rect x="274.30" y="187.80" width="1.6" height="1.6" fill="#ff33ff"/>
<rect x="276.40" y="194.50" width="1.6" height="1.6" fill="#ff33ff"/>
<rect x="279.10" y="197.00" width="1.6" height="1.6" fill="#ff33ff"/>
<rect x="274.30" y="217.40" width="1.6" height="1.6" fill="#ff33ff"/>
<rect x="283.30" y="212.20" width="1.6" height="1.6" fill="#ff33ff"/>
<rect x="295.90" y="177.80" width="1.6" height="1.6" fill="#ff33ff"/>
<rect x="280.20" y="196.60" width="1.6" height="1.6" fill="#ff33ff"/>
<rect x="273.90" y="217.30" width="1.6" height="1.6" fill="#ff33ff"/>
<rect x="246.80" y="199.30" width="1.6" height="1.6" fill="#3333ff"/>
<rect x="253.70" y="194.90" width="1.6" height="1.6" fill="#3333ff"/>
<rect x="262.40" y="197.60" width="1.6" height="1.6" fill="#3333ff"/>
<rect x="259.30" y="201.80" width="1.6" height="1.6" fill="#3333ff"/>
<rect x="260.30" y="203.90" width="1.6" height="1.6" fill="#3333ff"/>
<rect x="262.40" y="214.30" width="1.6" height="1.6" fill="#3333ff"/>
<rect x="270.80" y="195.10" width="1.6" height="1.6" fill="#3333ff"/>
<rect x="269.70" y="190.90" width="1.6" height="1.6" fill="#3333ff"/>
<rect x="279.10" y="206.00" width="1.6" height="1.6" fill="#3333ff"/>
<rect x="272.90" y="213.30" width="1.6" height="1.6" fill="#3333ff"/>
<rect x="276.00" y="212.80" width="1.6" height="1.6" fill="#3333ff"/>
<rect x="274.30" y="214.30" width="1.6" height="1.6" fill="#3333ff"/>
<rect x="281.20" y="217.90" width="1.6" height="1.6" fill="#3333ff"/>
<rect x="283.30" y="214.30" width="1.6" height="1.6" fill="#3333ff"/>
<rect x="309.50" y="190.90" width="1.6" height="1.6" fill="#3333ff"/>
<rect x="326.20" y="196.60" width="1.6" height="1.6" fill="#3333ff"/>
<rect x="289.60" y="207.00" width="1.6" height="1.6" fill="#3333ff"/>
<rect x="282.30" y="213.30" width="1.6" height="1.6" fill="#3333ff"/>
<rect x="281.30" y="218.10" width="1.6" height="1.6" fill="#3333ff"/>
<rect x="262.40" y="214.20" width="1.6" height="1.6" fill="#3333ff"/>
<rect x="273.90" y="214.20" width="1.6" height="1.6" fill="#3333ff"/>
<rect x="281.20" y="216.30" width="1.6" height="1.6" fill="#3333ff"/>
<rect x="280.20" y="220.60" width="1.6" height="1.6" fill="#33ddff"/>
<rect x="317.40" y="189.70" width="1.6" height="1.6" fill="#33ddff"/>
<rect x="306.30" y="199.70" width="1.6" height="1.6" fill="#33ddff"/>
<rect x="297.60" y="207.00" width="1.6" height="1.6" fill="#33ddff"/>
<rect x="283.40" y="212.20" width="1.6" height="1.6" fill="#33ddff"/>
<rect x="333.50" y="205.30" width="1.6" height="1.6" fill="#33ddff"/>
<rect x="299.00" y="218.90" width="1.6" height="1.6" fill="#33ddff"/>
<rect x="280.20" y="220.60" width="1.6" height="1.6" fill="#33ddff"/>
<rect x="265.20" y="226.30" width="1.6" height="1.6" fill="#33ddff"/>
<rect x="242.60" y="226.70" width="1.6" height="1.6" fill="#33ddff"/>
<rect x="263.50" y="233.40" width="1.6" height="1.6" fill="#33ddff"/>
<rect x="283.70" y="240.70" width="1.6" height="1.6" fill="#33ddff"/>
<rect x="299.00" y="218.40" width="1.6" height="1.6" fill="#33ddff"/>
<rect x="283.80" y="240.90" width="1.6" height="1.6" fill="#33ddff"/>
<rect x="260.30" y="223.30" width="1.6" height="1.6" fill="#33dd33"/>
<rect x="293.40" y="211.20" width="1.6" height="1.6" fill="#33dd33"/>
<rect x="317.80" y="212.80" width="1.6" height="1.6" fill="#33dd33"/>
<rect x="323.00" y="216.80" width="1.6" height="1.6" fill="#33dd33"/>
<rect x="291.70" y="216.40" width="1.6" height="1.6" fill="#33dd33"/>
<rect x="293.80" y="218.90" width="1.6" height="1.6" fill="#33dd33"/>
<rect x="260.30" y="223.00" width="1.6" height="1.6" fill="#33dd33"/>
<rect x="243.00" y="233.00" width="1.6" height="1.6" fill="#33dd33"/>
<rect x="251.00" y="234.50" width="1.6" height="1.6" fill="#33dd33"/>
<rect x="277.00" y="241.30" width="1.6" height="1.6" fill="#33dd33"/>
<rect x="291.30" y="216.70" width="1.6" height="1.6" fill="#33dd33"/>
<rect x="294.20" y="218.40" width="1.6" height="1.6" fill="#33dd33"/>
<rect x="322.40" y="216.70" width="1.6" height="1.6" fill="#33dd33"/>
<rect x="291.30" y="232.40" width="1.6" height="1.6" fill="#33dd33"/>
<rect x="312.60" y="236.10" width="1.6" height="1.6" fill="#33dd33"/>
<rect x="301.10" y="250.70" width="1.6" height="1.6" fill="#33dd33"/>
<rect x="265.60" y="223.30" width="1.6" height="1.6" fill="#ff3030"/>
<rect x="256.20" y="234.50" width="1.6" height="1.6" fill="#ff3030"/>
<rect x="269.30" y="240.90" width="1.6" height="1.6" fill="#ff3030"/>
<rect x="252.00" y="242.40" width="1.6" height="1.6" fill="#ff3030"/>
<rect x="266.00" y="243.80" width="1.6" height="1.6" fill="#ff3030"/>
<rect x="279.10" y="242.40" width="1.6" height="1.6" fill="#ff3030"/>
<rect x="288.60" y="238.20" width="1.6" height="1.6" fill="#ff3030"/>
<rect x="290.10" y="239.70" width="1.6" height="1.6" fill="#ff3030"/>
<rect x="279.20" y="242.40" width="1.6" height="1.6" fill="#ff3030"/>
<rect x="314.10" y="237.20" width="1.6" height="1.6" fill="#ff3030"/>
<rect x="298.40" y="245.10" width="1.6" height="1.6" fill="#ff3030"/>
<rect x="258.70" y="231.90" width="1.6" height="1.6" fill="#ffee00"/>
<rect x="264.50" y="238.20" width="1.6" height="1.6" fill="#ffee00"/>
<rect x="269.70" y="239.30" width="1.6" height="1.6" fill="#ffee00"/>
<rect x="282.70" y="246.60" width="1.6" height="1.6" fill="#ffee00"/>
<rect x="315.10" y="235.70" width="1.6" height="1.6" fill="#ffee00"/>
<rect x="306.30" y="244.10" width="1.6" height="1.6" fill="#ffee00"/>
<rect x="293.40" y="247.00" width="1.6" height="1.6" fill="#ffee00"/>
<rect x="295.30" y="247.60" width="1.6" height="1.6" fill="#ffee00"/>
<rect x="283.00" y="246.60" width="1.6" height="1.6" fill="#ffee00"/>
<text x="349.65" y="152.80" font-size="10.0" fill="#f03c46" stroke="#f03c46" stroke-width="0.15" textLength="16.75" lengthAdjust="spacingAndGlyphs">FNS</text>
<text x="367.85" y="152.80" font-size="10.0" fill="#f03c46" stroke="#f03c46" stroke-width="0.15" textLength="6.10" lengthAdjust="spacingAndGlyphs">0</text>
<text x="349.65" y="165.42" font-size="10.0" fill="#ffee22" stroke="#ffee22" stroke-width="0.15" textLength="16.75" lengthAdjust="spacingAndGlyphs">FNS</text>
<text x="367.85" y="165.42" font-size="10.0" fill="#ffee22" stroke="#ffee22" stroke-width="0.15" textLength="6.10" lengthAdjust="spacingAndGlyphs">1</text>
<text x="349.65" y="178.04" font-size="10.0" fill="#2ebd6a" stroke="#2ebd6a" stroke-width="0.15" textLength="16.75" lengthAdjust="spacingAndGlyphs">FNS</text>
<text x="367.85" y="178.04" font-size="10.0" fill="#2ebd6a" stroke="#2ebd6a" stroke-width="0.15" textLength="6.10" lengthAdjust="spacingAndGlyphs">2</text>
<text x="349.65" y="190.66" font-size="10.0" fill="#45c8f5" stroke="#45c8f5" stroke-width="0.15" textLength="16.75" lengthAdjust="spacingAndGlyphs">FNS</text>
<text x="367.85" y="190.66" font-size="10.0" fill="#45c8f5" stroke="#45c8f5" stroke-width="0.15" textLength="6.10" lengthAdjust="spacingAndGlyphs">3</text>
<text x="349.65" y="203.28" font-size="10.0" fill="#2d6fc0" stroke="#2d6fc0" stroke-width="0.15" textLength="16.75" lengthAdjust="spacingAndGlyphs">FNS</text>
<text x="367.85" y="203.28" font-size="10.0" fill="#2d6fc0" stroke="#2d6fc0" stroke-width="0.15" textLength="6.10" lengthAdjust="spacingAndGlyphs">4</text>
<text x="349.65" y="215.90" font-size="10.0" fill="#7a48b0" stroke="#7a48b0" stroke-width="0.15" textLength="16.75" lengthAdjust="spacingAndGlyphs">FNS</text>
<text x="367.85" y="215.90" font-size="10.0" fill="#7a48b0" stroke="#7a48b0" stroke-width="0.15" textLength="6.10" lengthAdjust="spacingAndGlyphs">5</text>
<rect x="382.2" y="141.1" width="15.1" height="19" fill="#fff" stroke="#9a9a9a" stroke-width="0.7"/>
<text x="387.45" y="154.50" font-size="10.8" fill="#222" stroke="#222" stroke-width="0.25" textLength="4.6" lengthAdjust="spacingAndGlyphs">E</text>
<path d="M399 166.7V270.1H535" fill="none" stroke="#9c9c9c" stroke-width="1"/>
<path d="M397.00 167.20H399" stroke="#9c9c9c" stroke-width="0.7"/>
<text x="396.50" y="168.65" text-anchor="end" font-size="4" fill="#3a3a3a" textLength="6.60" lengthAdjust="spacingAndGlyphs">0.06</text>
<path d="M397.00 192.93H399" stroke="#9c9c9c" stroke-width="0.7"/>
<text x="396.50" y="194.38" text-anchor="end" font-size="4" fill="#3a3a3a" textLength="6.60" lengthAdjust="spacingAndGlyphs">0.03</text>
<path d="M397.00 218.65H399" stroke="#9c9c9c" stroke-width="0.7"/>
<text x="396.50" y="220.10" text-anchor="end" font-size="4" fill="#3a3a3a" textLength="6.60" lengthAdjust="spacingAndGlyphs">0.00</text>
<path d="M397.00 244.38H399" stroke="#9c9c9c" stroke-width="0.7"/>
<text x="396.50" y="245.82" text-anchor="end" font-size="4" fill="#3a3a3a" textLength="9.37" lengthAdjust="spacingAndGlyphs">−0.03</text>
<path d="M397.00 270.10H399" stroke="#9c9c9c" stroke-width="0.7"/>
<text x="396.50" y="271.55" text-anchor="end" font-size="4" fill="#3a3a3a" textLength="9.37" lengthAdjust="spacingAndGlyphs">−0.06</text>
<path d="M399.00 270.1V272.1" stroke="#9c9c9c" stroke-width="0.7"/>
<text x="399.00" y="276.00" text-anchor="middle" font-size="4" fill="#3a3a3a" textLength="9.37" lengthAdjust="spacingAndGlyphs">−0.08</text>
<path d="M416.00 270.1V272.1" stroke="#9c9c9c" stroke-width="0.7"/>
<text x="416.00" y="276.00" text-anchor="middle" font-size="4" fill="#3a3a3a" textLength="9.37" lengthAdjust="spacingAndGlyphs">−0.06</text>
<path d="M433.00 270.1V272.1" stroke="#9c9c9c" stroke-width="0.7"/>
<text x="433.00" y="276.00" text-anchor="middle" font-size="4" fill="#3a3a3a" textLength="9.37" lengthAdjust="spacingAndGlyphs">−0.04</text>
<path d="M450.00 270.1V272.1" stroke="#9c9c9c" stroke-width="0.7"/>
<text x="450.00" y="276.00" text-anchor="middle" font-size="4" fill="#3a3a3a" textLength="9.37" lengthAdjust="spacingAndGlyphs">−0.02</text>
<path d="M467.00 270.1V272.1" stroke="#9c9c9c" stroke-width="0.7"/>
<text x="467.00" y="276.00" text-anchor="middle" font-size="4" fill="#3a3a3a" textLength="6.60" lengthAdjust="spacingAndGlyphs">0.00</text>
<path d="M484.00 270.1V272.1" stroke="#9c9c9c" stroke-width="0.7"/>
<text x="484.00" y="276.00" text-anchor="middle" font-size="4" fill="#3a3a3a" textLength="6.60" lengthAdjust="spacingAndGlyphs">0.02</text>
<path d="M501.00 270.1V272.1" stroke="#9c9c9c" stroke-width="0.7"/>
<text x="501.00" y="276.00" text-anchor="middle" font-size="4" fill="#3a3a3a" textLength="6.60" lengthAdjust="spacingAndGlyphs">0.04</text>
<path d="M518.00 270.1V272.1" stroke="#9c9c9c" stroke-width="0.7"/>
<text x="518.00" y="276.00" text-anchor="middle" font-size="4" fill="#3a3a3a" textLength="6.60" lengthAdjust="spacingAndGlyphs">0.06</text>
<path d="M535.00 270.1V272.1" stroke="#9c9c9c" stroke-width="0.7"/>
<text x="535.00" y="276.00" text-anchor="middle" font-size="4" fill="#3a3a3a" textLength="6.60" lengthAdjust="spacingAndGlyphs">0.08</text>
<text x="435.1" y="283.40" font-size="7.9" fill="#222" stroke="#222" stroke-width="0.14" textLength="63.90" lengthAdjust="spacingAndGlyphs">Principal component 1</text>
<text transform="translate(384.80 251.30) rotate(-90)" x="0" y="0" font-size="7.9" fill="#222" stroke="#222" stroke-width="0.14" textLength="66.00" lengthAdjust="spacingAndGlyphs">Principal component 2</text>
<ellipse cx="464.58" cy="214.51" rx="56.96" ry="34.24" transform="rotate(-14.52 464.58 214.51)" fill="none" stroke="#f29090" stroke-width="1.05"/>
<ellipse cx="476.34" cy="218.15" rx="52.10" ry="43.30" transform="rotate(2.57 476.34 218.15)" fill="none" stroke="#8e88f0" stroke-width="1.05"/>
<ellipse cx="462.36" cy="222.76" rx="44.55" ry="33.62" transform="rotate(46.45 462.36 222.76)" fill="none" stroke="#90e890" stroke-width="1.05"/>
<rect x="400.40" y="211.20" width="1.6" height="1.6" fill="#ff3030"/>
<rect x="424.40" y="201.80" width="1.6" height="1.6" fill="#ff3030"/>
<rect x="440.10" y="194.90" width="1.6" height="1.6" fill="#ff3030"/>
<rect x="450.50" y="207.00" width="1.6" height="1.6" fill="#ff3030"/>
<rect x="435.90" y="212.60" width="1.6" height="1.6" fill="#ff3030"/>
<rect x="449.10" y="214.30" width="1.6" height="1.6" fill="#ff3030"/>
<rect x="463.10" y="194.50" width="1.6" height="1.6" fill="#ff3030"/>
<rect x="465.80" y="197.00" width="1.6" height="1.6" fill="#ff3030"/>
<rect x="458.90" y="198.60" width="1.6" height="1.6" fill="#ff3030"/>
<rect x="460.30" y="217.40" width="1.6" height="1.6" fill="#ff3030"/>
<rect x="467.20" y="220.20" width="1.6" height="1.6" fill="#ff3030"/>
<rect x="467.60" y="221.60" width="1.6" height="1.6" fill="#ff3030"/>
<rect x="451.60" y="223.30" width="1.6" height="1.6" fill="#ff3030"/>
<rect x="482.20" y="177.80" width="1.6" height="1.6" fill="#ff3030"/>
<rect x="497.20" y="193.40" width="1.6" height="1.6" fill="#ff3030"/>
<rect x="512.40" y="196.60" width="1.6" height="1.6" fill="#ff3030"/>
<rect x="519.70" y="204.90" width="1.6" height="1.6" fill="#ff3030"/>
<rect x="493.00" y="199.70" width="1.6" height="1.6" fill="#ff3030"/>
<rect x="463.00" y="194.50" width="1.6" height="1.6" fill="#ff3030"/>
<rect x="483.80" y="207.00" width="1.6" height="1.6" fill="#ff3030"/>
<rect x="478.40" y="216.80" width="1.6" height="1.6" fill="#ff3030"/>
<rect x="481.10" y="218.10" width="1.6" height="1.6" fill="#ff3030"/>
<rect x="466.50" y="219.50" width="1.6" height="1.6" fill="#ff3030"/>
<rect x="452.00" y="223.00" width="1.6" height="1.6" fill="#ff3030"/>
<rect x="451.60" y="226.10" width="1.6" height="1.6" fill="#ff3030"/>
<rect x="429.60" y="233.00" width="1.6" height="1.6" fill="#ff3030"/>
<rect x="442.80" y="234.50" width="1.6" height="1.6" fill="#ff3030"/>
<rect x="452.60" y="243.80" width="1.6" height="1.6" fill="#ff3030"/>
<rect x="464.10" y="241.30" width="1.6" height="1.6" fill="#ff3030"/>
<rect x="475.20" y="239.20" width="1.6" height="1.6" fill="#ff3030"/>
<rect x="478.00" y="216.70" width="1.6" height="1.6" fill="#ff3030"/>
<rect x="485.90" y="218.40" width="1.6" height="1.6" fill="#ff3030"/>
<rect x="478.00" y="232.40" width="1.6" height="1.6" fill="#ff3030"/>
<rect x="476.90" y="239.70" width="1.6" height="1.6" fill="#ff3030"/>
<rect x="463.80" y="241.30" width="1.6" height="1.6" fill="#ff3030"/>
<rect x="433.20" y="198.60" width="1.6" height="1.6" fill="#33dd33"/>
<rect x="432.80" y="204.90" width="1.6" height="1.6" fill="#33dd33"/>
<rect x="449.10" y="197.60" width="1.6" height="1.6" fill="#33dd33"/>
<rect x="445.30" y="201.80" width="1.6" height="1.6" fill="#33dd33"/>
<rect x="447.40" y="203.90" width="1.6" height="1.6" fill="#33dd33"/>
<rect x="461.00" y="187.80" width="1.6" height="1.6" fill="#33dd33"/>
<rect x="455.70" y="204.90" width="1.6" height="1.6" fill="#33dd33"/>
<rect x="465.10" y="206.00" width="1.6" height="1.6" fill="#33dd33"/>
<rect x="459.90" y="213.30" width="1.6" height="1.6" fill="#33dd33"/>
<rect x="462.40" y="212.80" width="1.6" height="1.6" fill="#33dd33"/>
<rect x="460.30" y="214.70" width="1.6" height="1.6" fill="#33dd33"/>
<rect x="446.40" y="223.30" width="1.6" height="1.6" fill="#33dd33"/>
<rect x="496.40" y="190.90" width="1.6" height="1.6" fill="#33dd33"/>
<rect x="461.30" y="187.80" width="1.6" height="1.6" fill="#33dd33"/>
<rect x="465.50" y="206.00" width="1.6" height="1.6" fill="#33dd33"/>
<rect x="476.90" y="206.60" width="1.6" height="1.6" fill="#33dd33"/>
<rect x="463.00" y="212.60" width="1.6" height="1.6" fill="#33dd33"/>
<rect x="484.30" y="220.60" width="1.6" height="1.6" fill="#33dd33"/>
<rect x="461.00" y="214.20" width="1.6" height="1.6" fill="#33dd33"/>
<rect x="447.40" y="223.00" width="1.6" height="1.6" fill="#33dd33"/>
<rect x="429.00" y="226.30" width="1.6" height="1.6" fill="#33dd33"/>
<rect x="444.70" y="231.90" width="1.6" height="1.6" fill="#33dd33"/>
<rect x="449.90" y="233.40" width="1.6" height="1.6" fill="#33dd33"/>
<rect x="450.50" y="238.20" width="1.6" height="1.6" fill="#33dd33"/>
<rect x="455.70" y="241.30" width="1.6" height="1.6" fill="#33dd33"/>
<rect x="465.60" y="242.40" width="1.6" height="1.6" fill="#33dd33"/>
<rect x="470.40" y="240.70" width="1.6" height="1.6" fill="#33dd33"/>
<rect x="469.30" y="246.60" width="1.6" height="1.6" fill="#33dd33"/>
<rect x="484.70" y="220.50" width="1.6" height="1.6" fill="#33dd33"/>
<rect x="492.60" y="229.40" width="1.6" height="1.6" fill="#33dd33"/>
<rect x="475.90" y="238.20" width="1.6" height="1.6" fill="#33dd33"/>
<rect x="470.10" y="240.90" width="1.6" height="1.6" fill="#33dd33"/>
<rect x="465.90" y="242.40" width="1.6" height="1.6" fill="#33dd33"/>
<rect x="493.00" y="244.10" width="1.6" height="1.6" fill="#33dd33"/>
<rect x="485.30" y="245.10" width="1.6" height="1.6" fill="#33dd33"/>
<rect x="469.20" y="246.60" width="1.6" height="1.6" fill="#33dd33"/>
<rect x="487.40" y="250.70" width="1.6" height="1.6" fill="#33dd33"/>
<rect x="456.80" y="190.90" width="1.6" height="1.6" fill="#3333ff"/>
<rect x="458.90" y="189.70" width="1.6" height="1.6" fill="#3333ff"/>
<rect x="457.40" y="194.50" width="1.6" height="1.6" fill="#3333ff"/>
<rect x="456.40" y="198.60" width="1.6" height="1.6" fill="#3333ff"/>
<rect x="469.30" y="212.20" width="1.6" height="1.6" fill="#3333ff"/>
<rect x="469.70" y="214.30" width="1.6" height="1.6" fill="#3333ff"/>
<rect x="467.20" y="217.40" width="1.6" height="1.6" fill="#3333ff"/>
<rect x="504.70" y="189.90" width="1.6" height="1.6" fill="#3333ff"/>
<rect x="480.10" y="210.80" width="1.6" height="1.6" fill="#3333ff"/>
<rect x="504.70" y="212.60" width="1.6" height="1.6" fill="#3333ff"/>
<rect x="509.30" y="216.40" width="1.6" height="1.6" fill="#3333ff"/>
<rect x="485.30" y="218.10" width="1.6" height="1.6" fill="#3333ff"/>
<rect x="438.00" y="234.50" width="1.6" height="1.6" fill="#3333ff"/>
<rect x="456.80" y="238.80" width="1.6" height="1.6" fill="#3333ff"/>
<rect x="456.20" y="239.70" width="1.6" height="1.6" fill="#3333ff"/>
<rect x="438.40" y="242.40" width="1.6" height="1.6" fill="#3333ff"/>
<rect x="481.10" y="218.40" width="1.6" height="1.6" fill="#3333ff"/>
<rect x="509.30" y="216.70" width="1.6" height="1.6" fill="#3333ff"/>
<rect x="498.90" y="235.70" width="1.6" height="1.6" fill="#3333ff"/>
<rect x="501.00" y="236.70" width="1.6" height="1.6" fill="#3333ff"/>
<rect x="502.40" y="235.70" width="1.6" height="1.6" fill="#3333ff"/>
<rect x="480.10" y="247.00" width="1.6" height="1.6" fill="#3333ff"/>
<rect x="481.70" y="247.60" width="1.6" height="1.6" fill="#3333ff"/>
<text x="522.15" y="151.90" font-size="10.0" fill="#f5333f" stroke="#f5333f" stroke-width="0.15" textLength="16.45" lengthAdjust="spacingAndGlyphs">DCS</text>
<text x="540.55" y="151.90" font-size="10.0" fill="#f5333f" stroke="#f5333f" stroke-width="0.15" textLength="5.50" lengthAdjust="spacingAndGlyphs">0</text>
<text x="522.15" y="164.60" font-size="10.0" fill="#3cc060" stroke="#3cc060" stroke-width="0.15" textLength="16.45" lengthAdjust="spacingAndGlyphs">DCS</text>
<text x="540.55" y="164.60" font-size="10.0" fill="#3cc060" stroke="#3cc060" stroke-width="0.15" textLength="5.50" lengthAdjust="spacingAndGlyphs">1</text>
<text x="522.15" y="177.30" font-size="10.0" fill="#3d86d0" stroke="#3d86d0" stroke-width="0.15" textLength="16.45" lengthAdjust="spacingAndGlyphs">DCS</text>
<text x="540.55" y="177.30" font-size="10.0" fill="#3d86d0" stroke="#3d86d0" stroke-width="0.15" textLength="5.50" lengthAdjust="spacingAndGlyphs">2</text>
</svg>
</body></html>
